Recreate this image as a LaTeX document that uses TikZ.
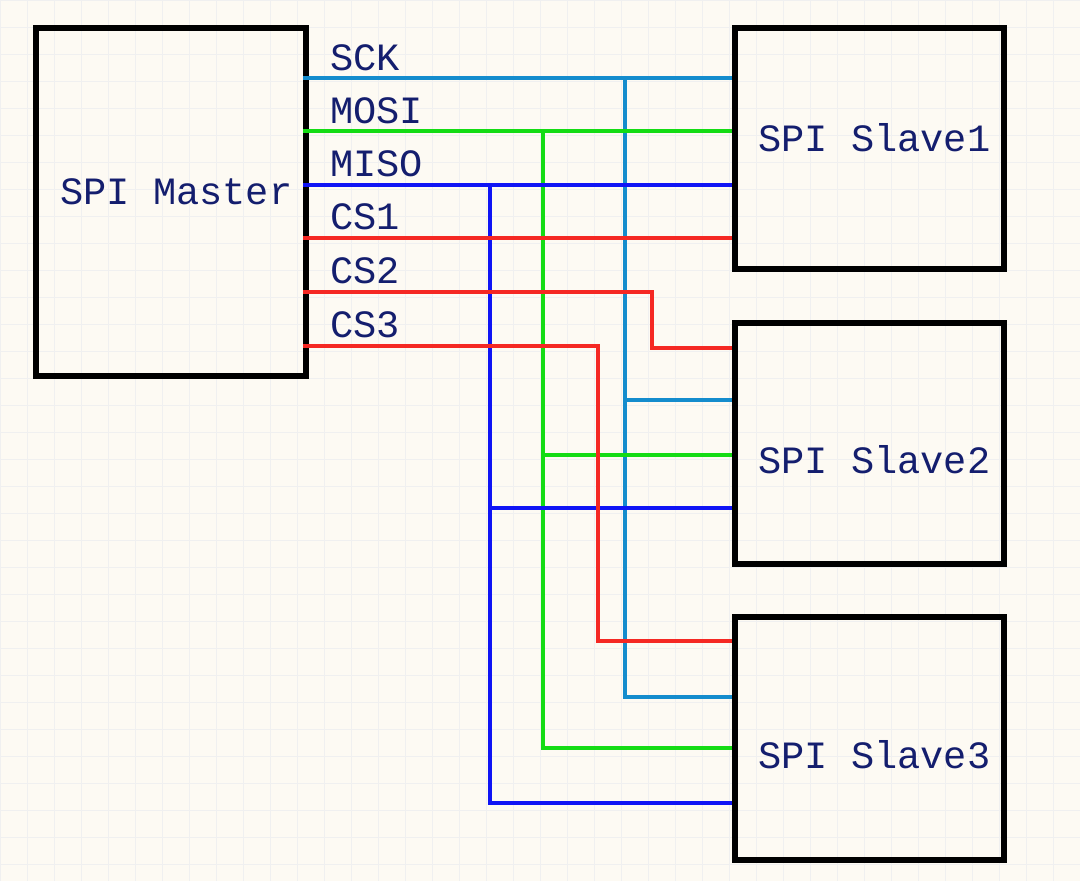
\documentclass[tikz,border=0pt]{standalone}
\usepackage{fontspec}
\setmainfont{Liberation Mono}
\definecolor{bgc}{RGB}{253,250,243}
\definecolor{sckc}{RGB}{20,140,205}
\definecolor{mosic}{RGB}{20,220,20}
\definecolor{misoc}{RGB}{15,20,245}
\definecolor{csc}{RGB}{245,40,35}
\definecolor{txtc}{RGB}{20,30,110}
\begin{document}
\begin{tikzpicture}[x=0.02cm,y=-0.02cm,
  box/.style={draw=black,line width=3.3pt},
  wire/.style={line width=2.8pt},
  lbl/.style={font=\fontsize{22}{24}\selectfont,text=txtc,anchor=west,inner sep=0pt},
  sck/.style={wire,draw=sckc},
  mosi/.style={wire,draw=mosic},
  miso/.style={wire,draw=misoc},
  cs/.style={wire,draw=csc}]
\fill[bgc] (0,0) rectangle (1080,881);
\useasboundingbox (0,0) rectangle (1080,881);
\foreach \i in {0,27,...,1080} \draw[black!6,line width=0.4pt] (\i,0) -- (\i,881);
\foreach \i in {0,27,...,881} \draw[black!6,line width=0.4pt] (0,\i) -- (1080,\i);
\node[box,minimum width=5.4cm,minimum height=6.96cm,anchor=north west] (m) at (33,25) {};
\node[box,minimum width=5.38cm,minimum height=4.82cm,anchor=north west] (s1) at (732,25) {};
\node[box,minimum width=5.38cm,minimum height=4.82cm,anchor=north west] (s2) at (732,320) {};
\node[box,minimum width=5.38cm,minimum height=4.86cm,anchor=north west] (s3) at (732,614) {};
\node[lbl] (tm) at (60,192) {SPI Master};
\node[lbl] (t1) at (758,138) {SPI Slave1};
\node[lbl] (t2) at (758,460) {SPI Slave2};
\node[lbl] (t3) at (758,755) {SPI Slave3};
\node[lbl] (l1) at (330,58) {SCK};
\node[lbl] (l2) at (330,111) {MOSI};
\node[lbl] (l3) at (330,164) {MISO};
\node[lbl] (l4) at (330,217) {CS1};
\node[lbl] (l5) at (330,271) {CS2};
\node[lbl] (l6) at (330,325) {CS3};
\coordinate (a1) at (303,78); \coordinate (a2) at (303,131); \coordinate (a3) at (303,185);
\coordinate (a4) at (303,238); \coordinate (a5) at (303,292); \coordinate (a6) at (303,346);
\draw[sck] (a1) -- (732,78);
\draw[sck] (625,78) -- (625,697) -- (732,697);
\draw[sck] (625,400) -- (732,400);
\draw[mosi] (a2) -- (732,131);
\draw[mosi] (543,131) -- (543,748) -- (732,748);
\draw[mosi] (543,455) -- (732,455);
\draw[miso] (a3) -- (732,185);
\draw[miso] (490,185) -- (490,803) -- (732,803);
\draw[miso] (490,508) -- (732,508);
\draw[cs] (a4) -- (732,238);
\draw[cs] (a5) -- (652,292) -- (652,348) -- (732,348);
\draw[cs] (a6) -- (598,346) -- (598,641) -- (732,641);
\end{tikzpicture}
\end{document}
